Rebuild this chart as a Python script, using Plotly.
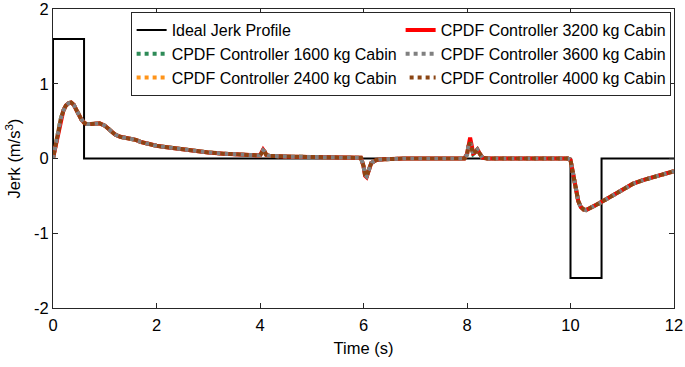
import plotly.graph_objects as go

# Ideal jerk profile (step points)
ideal_t = [0, 0, 0.6, 0.6, 10.0, 10.0, 10.6, 10.6, 12.0]
ideal_j = [0, 1.6, 1.6, 0, 0, -1.6, -1.6, 0, 0]

# Common time base for controller responses
time_s = [0, 0.05, 0.1, 0.15, 0.2, 0.25, 0.3, 0.35, 0.4, 0.45, 0.5, 0.55, 0.6, 0.65, 0.7,
          0.8, 0.9, 1.0, 1.1, 1.2, 1.3, 1.4, 1.5, 1.6, 1.7, 1.8, 2.0, 2.2, 2.4, 2.6, 2.8,
          3.0, 3.3, 3.6, 3.9, 4.0, 4.03, 4.06, 4.09, 4.12, 4.18, 4.3, 4.6, 5.0, 5.4, 5.8,
          5.95, 6.0, 6.03, 6.06, 6.1, 6.15, 6.25, 6.4, 6.8, 7.4, 7.95, 8.0, 8.03, 8.06,
          8.09, 8.12, 8.15, 8.2, 8.25, 8.3, 8.4, 9.0, 9.95, 10.0, 10.05, 10.1, 10.15, 10.2,
          10.25, 10.3, 10.4, 10.5, 10.6, 10.8, 11.0, 11.2, 11.4, 11.6, 11.8, 12.0]

jerk_1600 = [0, 0.17, 0.37, 0.53, 0.64, 0.71, 0.74, 0.75, 0.72, 0.65, 0.58, 0.52, 0.48, 0.46, 0.46,
             0.47, 0.47, 0.44, 0.38, 0.32, 0.29, 0.28, 0.27, 0.25, 0.22, 0.20, 0.17, 0.15, 0.13, 0.11, 0.095,
             0.08, 0.065, 0.055, 0.045, 0.04, 0.07, 0.11, 0.09, 0.05, 0.035, 0.03, 0.025, 0.02, 0.015, 0.01,
             0.01, -0.10, -0.22, -0.24, -0.15, -0.06, -0.02, -0.01, 0.0, 0.0, 0.0, 0.05, 0.17, 0.21,
             0.14, 0.06, 0.08, 0.12, 0.06, 0.01, 0.0, 0.0, 0.0, -0.02, -0.20, -0.42, -0.57, -0.65,
             -0.68, -0.69, -0.66, -0.62, -0.58, -0.50, -0.41, -0.34, -0.29, -0.25, -0.21, -0.17]

jerk_2400 = [0, 0.17, 0.37, 0.53, 0.64, 0.71, 0.74, 0.75, 0.72, 0.65, 0.58, 0.52, 0.48, 0.46, 0.46,
             0.47, 0.47, 0.44, 0.38, 0.32, 0.29, 0.28, 0.27, 0.25, 0.22, 0.20, 0.17, 0.15, 0.13, 0.11, 0.095,
             0.08, 0.065, 0.055, 0.045, 0.04, 0.07, 0.11, 0.09, 0.05, 0.035, 0.03, 0.025, 0.02, 0.015, 0.01,
             0.01, -0.10, -0.22, -0.24, -0.15, -0.06, -0.02, -0.01, 0.0, 0.0, 0.0, 0.05, 0.18, 0.22,
             0.14, 0.06, 0.08, 0.12, 0.06, 0.01, 0.0, 0.0, 0.0, -0.02, -0.20, -0.42, -0.57, -0.65,
             -0.68, -0.69, -0.66, -0.62, -0.58, -0.50, -0.41, -0.34, -0.29, -0.25, -0.21, -0.17]

jerk_3200 = [0, 0.16, 0.36, 0.52, 0.64, 0.71, 0.74, 0.75, 0.72, 0.65, 0.58, 0.52, 0.48, 0.46, 0.46,
             0.47, 0.47, 0.44, 0.38, 0.32, 0.29, 0.28, 0.27, 0.25, 0.22, 0.20, 0.17, 0.15, 0.13, 0.11, 0.095,
             0.08, 0.065, 0.055, 0.045, 0.04, 0.08, 0.12, 0.09, 0.05, 0.035, 0.03, 0.025, 0.02, 0.015, 0.01,
             0.01, -0.10, -0.23, -0.25, -0.15, -0.06, -0.02, -0.01, 0.0, 0.0, 0.0, 0.06, 0.22, 0.28,
             0.18, 0.07, 0.08, 0.12, 0.06, 0.01, 0.0, 0.0, 0.0, -0.02, -0.20, -0.42, -0.57, -0.65,
             -0.68, -0.69, -0.66, -0.62, -0.58, -0.50, -0.41, -0.34, -0.29, -0.25, -0.21, -0.17]

jerk_3600 = [0, 0.17, 0.37, 0.53, 0.64, 0.71, 0.74, 0.75, 0.72, 0.65, 0.58, 0.52, 0.48, 0.46, 0.46,
             0.47, 0.47, 0.44, 0.38, 0.32, 0.29, 0.28, 0.27, 0.25, 0.22, 0.20, 0.17, 0.15, 0.13, 0.11, 0.095,
             0.08, 0.065, 0.055, 0.045, 0.04, 0.07, 0.11, 0.09, 0.05, 0.035, 0.03, 0.025, 0.02, 0.015, 0.01,
             0.01, -0.10, -0.22, -0.24, -0.15, -0.06, -0.02, -0.01, 0.0, 0.0, 0.0, 0.05, 0.18, 0.22,
             0.14, 0.06, 0.08, 0.12, 0.06, 0.01, 0.0, 0.0, 0.0, -0.02, -0.20, -0.42, -0.57, -0.65,
             -0.68, -0.69, -0.66, -0.62, -0.58, -0.50, -0.41, -0.34, -0.29, -0.25, -0.21, -0.17]

jerk_4000 = [0, 0.17, 0.37, 0.53, 0.64, 0.71, 0.74, 0.75, 0.72, 0.65, 0.58, 0.52, 0.48, 0.46, 0.46,
             0.47, 0.47, 0.44, 0.38, 0.32, 0.29, 0.28, 0.27, 0.25, 0.22, 0.20, 0.17, 0.15, 0.13, 0.11, 0.095,
             0.08, 0.065, 0.055, 0.045, 0.04, 0.07, 0.11, 0.09, 0.05, 0.035, 0.03, 0.025, 0.02, 0.015, 0.01,
             0.01, -0.10, -0.22, -0.24, -0.15, -0.06, -0.02, -0.01, 0.0, 0.0, 0.0, 0.05, 0.17, 0.21,
             0.14, 0.06, 0.08, 0.12, 0.06, 0.01, 0.0, 0.0, 0.0, -0.02, -0.20, -0.42, -0.57, -0.65,
             -0.68, -0.69, -0.66, -0.62, -0.58, -0.50, -0.41, -0.34, -0.29, -0.25, -0.21, -0.17]

x_ticks = [0, 2, 4, 6, 8, 10, 12]
x_tick_labels = ["0", "2", "4", "6", "8", "10", "12"]
y_ticks = [-2, -1, 0, 1, 2]
y_tick_labels = ["-2", "-1", "0", "1", "2"]

FONT = "Liberation Sans, Arial, Helvetica, sans-serif"

fig = go.Figure()
fig.add_trace(go.Scatter(x=ideal_t, y=ideal_j, mode="lines", name="Ideal Jerk Profile",
                         line=dict(color="black", width=2), legendrank=1))
fig.add_trace(go.Scatter(x=time_s, y=jerk_1600, mode="lines", name="CPDF Controller 1600 kg Cabin",
                         line=dict(color="#2e8b57", width=4, dash="4px,4px"), legendrank=3))
fig.add_trace(go.Scatter(x=time_s, y=jerk_2400, mode="lines", name="CPDF Controller 2400 kg Cabin",
                         line=dict(color="#ff9419", width=4, dash="4px,4px"), legendrank=5))
fig.add_trace(go.Scatter(x=time_s, y=jerk_3200, mode="lines", name="CPDF Controller 3200 kg Cabin",
                         line=dict(color="#ff0000", width=4), legendrank=2))
fig.add_trace(go.Scatter(x=time_s, y=jerk_3600, mode="lines", name="CPDF Controller 3600 kg Cabin",
                         line=dict(color="#808080", width=4, dash="4px,4px"), legendrank=4))
fig.add_trace(go.Scatter(x=time_s, y=jerk_4000, mode="lines", name="CPDF Controller 4000 kg Cabin",
                         line=dict(color="#8b4513", width=4, dash="0px,4px,4px,0px"), legendrank=6))

axis_common = dict(showline=True, linecolor="#262626", linewidth=1, mirror="ticks",
                   ticks="inside", ticklen=5, tickcolor="#262626", showgrid=False,
                   zeroline=False, automargin=False, ticklabeloverflow="allow",
                   tickfont=dict(family=FONT, size=16.5, color="black"))

fig.update_layout(
    width=685, height=367,
    margin=dict(l=53, r=11, t=9, b=59, autoexpand=False),
    paper_bgcolor="white", plot_bgcolor="white",
    font=dict(family=FONT, color="black"),
    xaxis=dict(range=[0, 12], tickvals=x_ticks, ticktext=x_tick_labels, ticklabelstandoff=2,
               title=dict(text="Time (s)", font=dict(family=FONT, size=16.5), standoff=9),
               **axis_common),
    yaxis=dict(range=[-2, 2], tickvals=y_ticks, ticktext=y_tick_labels,
               title=dict(text="Jerk (m/s<sup>3</sup>)", font=dict(family=FONT, size=16.5), standoff=9),
               **axis_common),
    legend=dict(orientation="h", x=0.125, y=0.99, xanchor="left", yanchor="top",
                bgcolor="white", bordercolor="#262626", borderwidth=1,
                font=dict(family=FONT, size=16, color="black"),
                entrywidth=224, entrywidthmode="pixels", itemwidth=30,
                traceorder="normal"),
)

fig.write_html("out.html", config={"displayModeBar": False},
               post_script="document.body.style.margin='0';")
